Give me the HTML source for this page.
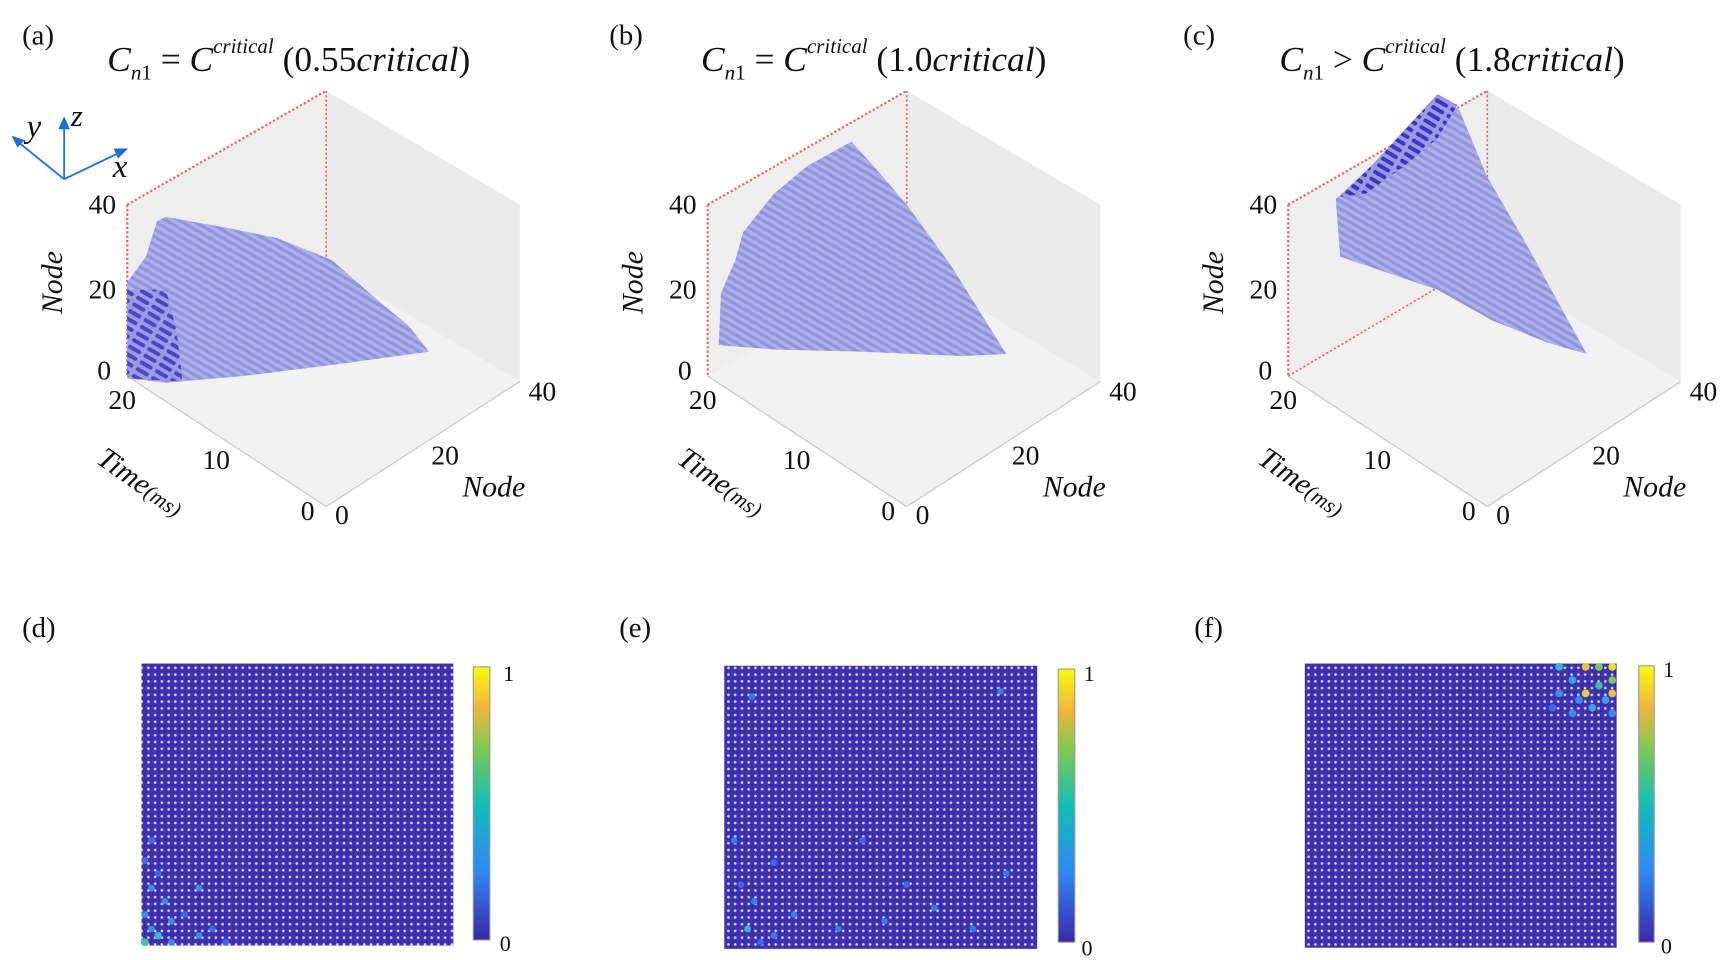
<!DOCTYPE html>
<html><head><meta charset="utf-8"><style>
html,body{margin:0;padding:0;background:#fff;}
svg{display:block;}
</style></head><body>
<svg width="1725" height="960" viewBox="0 0 1560 868" xmlns="http://www.w3.org/2000/svg" font-family="'Liberation Serif','DejaVu Serif','Times New Roman',serif" fill="#111">
<defs>
<pattern id="streak" width="14" height="6" patternUnits="userSpaceOnUse" patternTransform="rotate(30)">
<rect width="14" height="6" fill="#aeb0e8"/>
<rect x="0" y="0" width="14" height="3" fill="#9194dd"/>
</pattern>
<pattern id="streakd" width="16" height="7" patternUnits="userSpaceOnUse" patternTransform="rotate(30)">
<rect width="16" height="7" fill="#9a9cdf"/>
<rect x="1" y="1" width="13" height="3.6" rx="1.8" fill="#3a34cc"/>
</pattern>
<pattern id="grid" width="6.1" height="6.1" patternUnits="userSpaceOnUse">
<rect width="6.1" height="6.1" fill="#3d2fb2"/>
<circle cx="0" cy="0" r="1.2" fill="#dcdcf0"/>
<circle cx="6.1" cy="0" r="1.2" fill="#dcdcf0"/>
<circle cx="0" cy="6.1" r="1.2" fill="#dcdcf0"/>
<circle cx="6.1" cy="6.1" r="1.2" fill="#dcdcf0"/>
</pattern>
<linearGradient id="parula" x1="0" y1="1" x2="0" y2="0">
<stop offset="0" stop-color="#3e26a8"/>
<stop offset="0.25" stop-color="#2e87f5"/>
<stop offset="0.5" stop-color="#13beb7"/>
<stop offset="0.7" stop-color="#7cc94f"/>
<stop offset="0.85" stop-color="#f2b63d"/>
<stop offset="1" stop-color="#f8fa0d"/>
</linearGradient>
<g id="box">
<polygon points="115,185 295,82 470,185 470,345 295,458 115,340" fill="#eeeeee"/>
<polygon points="295,82 470,185 470,345 295,240" fill="#ebebeb"/>
<polygon points="115,340 295,240 470,345 295,458" fill="#f2f2f2"/>
<line x1="115" y1="340" x2="295" y2="458" stroke="#cccccc" stroke-width="1.2"/>
<line x1="295" y1="458" x2="470" y2="345" stroke="#cccccc" stroke-width="1.2"/>
<line x1="115" y1="185" x2="295" y2="82" stroke="#e8685a" stroke-width="2" stroke-dasharray="2,2"/>
<line x1="115" y1="185" x2="115" y2="340" stroke="#e8685a" stroke-width="2" stroke-dasharray="2,2"/>
<line x1="295" y1="82" x2="295" y2="235" stroke="#e8685a" stroke-width="1.5" stroke-dasharray="2,2"/>
<g font-size="25">
<text x="80" y="193">40</text><text x="80" y="270">20</text><text x="88" y="343">0</text>
<text x="98" y="370">20</text><text x="183" y="424">10</text><text x="272" y="470">0</text>
<text x="303" y="474">0</text><text x="390" y="420">20</text><text x="478" y="362">40</text>
</g>
<text font-style="italic" font-size="27" transform="translate(56,284) rotate(-90)">Node</text>
<text font-style="italic" font-size="27" transform="translate(86,418) rotate(35)">Time<tspan font-size="20">(ms)</tspan></text>
<text font-style="italic" font-size="27" x="418" y="449">Node</text>
</g>
</defs>

<!-- panel a -->
<text x="20" y="40" font-size="26">(a)</text>
<text font-style="italic" font-size="32" x="97" y="64">C<tspan font-size="19" dy="8">n</tspan><tspan font-style="normal" font-size="19">1</tspan><tspan dy="-8" font-style="normal"> = </tspan>C<tspan font-size="19" dy="-16">critical</tspan><tspan dy="16" font-style="normal"> (0.55</tspan>critical<tspan font-style="normal">)</tspan></text>
<use href="#box"/>
<polygon points="115,255 132,232 142,200 150,196 200,205 250,215 300,235 340,270 370,295 388,318 300,330 220,340 150,346 115,342" fill="url(#streak)"/>
<polygon points="115,262 150,262 160,300 165,345 115,342" fill="url(#streakd)" opacity="0.85"/>
<g stroke="#1d6fd6" stroke-width="1.6" fill="#1d6fd6">
<line x1="58" y1="162" x2="16" y2="128"/><polygon points="12,124 21,127 16,132"/>
<line x1="58" y1="162" x2="58" y2="114"/><polygon points="58,107 54,116 62,116"/>
<line x1="58" y1="162" x2="108" y2="138"/><polygon points="114,135 104,135 107,142"/>
</g>
<text font-style="italic" font-size="30" x="24" y="124">y</text>
<text font-style="italic" font-size="28" x="64" y="114">z</text>
<text font-style="italic" font-size="30" x="102" y="160">x</text>

<!-- panel b -->
<text x="551" y="40" font-size="26">(b)</text>
<text font-style="italic" font-size="32" x="634" y="64">C<tspan font-size="19" dy="8">n</tspan><tspan font-style="normal" font-size="19">1</tspan><tspan dy="-8" font-style="normal"> = </tspan>C<tspan font-size="19" dy="-16">critical</tspan><tspan dy="16" font-style="normal"> (1.0</tspan>critical<tspan font-style="normal">)</tspan></text>
<g transform="translate(525,0)"><use href="#box"/></g>
<polygon points="650,312 652,265 665,235 672,210 700,175 730,150 770,128 790,150 820,185 860,240 910,320 870,322 780,318 700,316" fill="url(#streak)"/>

<!-- panel c -->
<text x="1070" y="40" font-size="26">(c)</text>
<text font-style="italic" font-size="32" x="1157" y="64">C<tspan font-size="19" dy="8">n</tspan><tspan font-style="normal" font-size="19">1</tspan><tspan dy="-8" font-style="normal"> &gt; </tspan>C<tspan font-size="19" dy="-16">critical</tspan><tspan dy="16" font-style="normal"> (1.8</tspan>critical<tspan font-style="normal">)</tspan></text>
<g transform="translate(1050,0)"><use href="#box"/></g>
<line x1="1165" y1="340" x2="1300" y2="260" stroke="#e8685a" stroke-width="1.5" stroke-dasharray="2,2"/>
<polygon points="1208,180 1240,150 1300,85 1320,100 1345,160 1380,220 1410,275 1435,320 1400,310 1350,290 1300,262 1250,245 1212,232" fill="url(#streak)"/>
<polygon points="1212,178 1250,140 1300,85 1318,95 1300,125 1270,150 1235,175" fill="url(#streakd)"/>

<!-- panel d -->
<text x="20" y="576" font-size="26">(d)</text>
<rect x="128" y="600" width="282" height="255" fill="url(#grid)"/>
<g fill="#3a8ee8">
<circle cx="131" cy="852" r="3.5" fill="#3fc3a4"/><circle cx="143" cy="846" r="3.5" fill="#40b4c8"/><circle cx="131" cy="827" r="3"/><circle cx="137" cy="840" r="3"/><circle cx="155" cy="833" r="3"/><circle cx="180" cy="846" r="3"/><circle cx="155" cy="852" r="3"/><circle cx="137" cy="803" r="3"/><circle cx="180" cy="803" r="3"/><circle cx="149" cy="815" r="3"/><circle cx="131" cy="778" r="3" fill="#4466ee"/><circle cx="137" cy="760" r="3" fill="#4466ee"/><circle cx="192" cy="840" r="3" fill="#4466ee"/><circle cx="204" cy="852" r="3" fill="#4466ee"/><circle cx="143" cy="790" r="3" fill="#4466ee"/><circle cx="167" cy="827" r="3" fill="#4466ee"/>
</g>
<rect x="428" y="603" width="15" height="247" fill="url(#parula)" stroke="#999" stroke-width="1"/>
<text x="455" y="616" font-size="20">1</text><text x="452" y="860" font-size="20">0</text>

<!-- panel e -->
<text x="560" y="576" font-size="26">(e)</text>
<rect x="655" y="602" width="283" height="256" fill="url(#grid)"/>
<g fill="#3a7ae8">
<circle cx="676" cy="840" r="3" fill="#3fb6c8"/><circle cx="700" cy="846" r="3"/><circle cx="682" cy="815" r="3"/><circle cx="718" cy="827" r="3"/><circle cx="758" cy="840" r="3"/><circle cx="800" cy="833" r="3"/><circle cx="845" cy="821" r="3"/><circle cx="880" cy="840" r="3"/><circle cx="664" cy="760" r="3"/><circle cx="680" cy="630" r="3"/><circle cx="905" cy="625" r="3"/><circle cx="910" cy="790" r="3"/><circle cx="780" cy="760" r="3" fill="#4466ee"/><circle cx="700" cy="780" r="3" fill="#4466ee"/><circle cx="820" cy="800" r="3" fill="#4466ee"/><circle cx="670" cy="800" r="3" fill="#4466ee"/><circle cx="688" cy="852" r="3" fill="#4466ee"/>
</g>
<rect x="957" y="605" width="15" height="247" fill="url(#parula)" stroke="#999" stroke-width="1"/>
<text x="980" y="616" font-size="20">1</text><text x="978" y="864" font-size="20">0</text>

<!-- panel f -->
<text x="1080" y="576" font-size="26">(f)</text>
<rect x="1180" y="600" width="282" height="257" fill="url(#grid)"/>
<g>
<circle cx="1434" cy="603" r="3.5" fill="#f0c040"/><circle cx="1458" cy="603" r="3.5" fill="#f5e020"/><circle cx="1446" cy="603" r="3.5" fill="#7ccc50"/><circle cx="1410" cy="603" r="3.5" fill="#35b8d0"/><circle cx="1434" cy="627" r="3.5" fill="#e8d030"/><circle cx="1446" cy="620" r="3.5" fill="#40c090"/><circle cx="1458" cy="627" r="3.5" fill="#f0c040"/><circle cx="1422" cy="615" r="3.5" fill="#3aa0e8"/><circle cx="1410" cy="627" r="3.5" fill="#3a8ee8"/><circle cx="1440" cy="640" r="3.5" fill="#3aa0e8"/><circle cx="1458" cy="645" r="3.5" fill="#3a8ee8"/><circle cx="1422" cy="645" r="3.5" fill="#3a8ee8"/><circle cx="1404" cy="640" r="3.5" fill="#4466ee"/><circle cx="1458" cy="615" r="3.5" fill="#7ccc50"/><circle cx="1428" cy="633" r="3.5" fill="#3a8ee8"/><circle cx="1452" cy="633" r="3.5" fill="#3aa0e8"/>
</g>
<rect x="1482" y="602" width="14" height="250" fill="url(#parula)" stroke="#999" stroke-width="1"/>
<text x="1504" y="612" font-size="20">1</text><text x="1502" y="862" font-size="20">0</text>
</svg>
</body></html>
